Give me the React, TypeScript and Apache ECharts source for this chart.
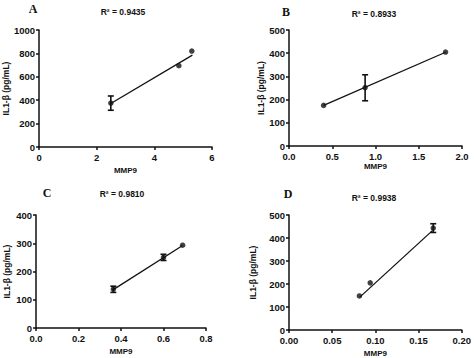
import React, { useEffect, useRef } from "react";
import * as echarts from "echarts";

// Panel A
const aX = [2.49, 4.85, 5.3];
const aY = [375, 695, 820];
const aErr = [[2.49, 314, 436]];
const aFit = [[2.49, 372], [5.32, 785]];
// Panel B
const bX = [0.4, 0.88, 1.81];
const bY = [175, 252, 405];
const bErr = [[0.88, 195, 307]];
const bFit = [[0.4, 175], [1.81, 404]];
// Panel C
const cX = [0.364, 0.6, 0.69];
const cY = [138, 250, 293];
const cErr = [[0.364, 126, 148], [0.6, 239, 261]];
const cFit = [[0.36, 134], [0.69, 292]];
// Panel D
const dX = [0.0815, 0.094, 0.167];
const dY = [148, 205, 443];
const dErr = [[0.167, 424, 462]];
const dFit = [[0.082, 143], [0.166, 432]];

const letters = ["A", "B", "C", "D"];
const r2Labels = ["R² = 0.9435", "R² = 0.8933", "R² = 0.9810", "R² = 0.9938"];
const xMax = [6, 2, 0.8, 0.2];
const xInterval = [2, 0.5, 0.2, 0.05];
const xDecimals = [0, 1, 1, 2];
const yMax = [1000, 500, 400, 500];
const yInterval = [200, 100, 100, 100];

const FONT = "Liberation Sans, Arial, sans-serif";

export default function App() {
  const ref = useRef<HTMLDivElement>(null);
  useEffect(() => {
    if (!ref.current) return;
    const chart = echarts.init(ref.current, null, { renderer: "svg" });
    const xs = [aX, bX, cX, dX];
    const ys = [aY, bY, cY, dY];
    const errs = [aErr, bErr, cErr, dErr];
    const fits = [aFit, bFit, cFit, dFit];
    const grids = [
      { left: 35, top: 30, width: 177, height: 117 },
      { left: 289, top: 30, width: 173, height: 116 },
      { left: 36, top: 215, width: 170, height: 113 },
      { left: 289, top: 215, width: 174, height: 117 },
    ];
    const yNameGap = [27, 22, 25, 32];
    const xNameGap = [19, 16, 19, 19];
    const titlePos = [
      [123, 12],
      [374, 14],
      [122, 194],
      [374, 198],
    ];
    const letterPos = [
      [33, 9],
      [286, 12],
      [47, 193],
      [288, 194],
    ];
    const axisLine = { show: true, lineStyle: { color: "#111", width: 1.5 } };
    const axisTick = { show: true, inside: false, length: 3, lineStyle: { color: "#111", width: 1.5 } };
    const series: any[] = [];
    for (let i = 0; i < 4; i++) {
      series.push({
        type: "line",
        xAxisIndex: i,
        yAxisIndex: i,
        data: fits[i],
        symbol: "none",
        lineStyle: { color: "#111", width: 1.3 },
        z: 2,
      });
      series.push({
        type: "scatter",
        xAxisIndex: i,
        yAxisIndex: i,
        data: xs[i].map((x, k) => [x, ys[i][k]]),
        symbol: "circle",
        symbolSize: 5.5,
        itemStyle: { color: "#111" },
        z: 3,
      });
      series.push({
        type: "custom",
        xAxisIndex: i,
        yAxisIndex: i,
        data: errs[i],
        z: 4,
        renderItem: (params: any, api: any) => {
          const x = api.value(0);
          const lo = api.coord([x, api.value(1)]);
          const hi = api.coord([x, api.value(2)]);
          const w = 3;
          const style = { stroke: "#111", lineWidth: 1.6 };
          return {
            type: "group",
            children: [
              { type: "line", shape: { x1: lo[0], y1: lo[1], x2: hi[0], y2: hi[1] }, style },
              { type: "line", shape: { x1: lo[0] - w, y1: lo[1], x2: lo[0] + w, y2: lo[1] }, style },
              { type: "line", shape: { x1: hi[0] - w, y1: hi[1], x2: hi[0] + w, y2: hi[1] }, style },
            ],
          };
        },
      });
    }
    const graphic: any[] = [];
    for (let i = 0; i < 4; i++) {
      graphic.push({
        type: "text",
        x: titlePos[i][0],
        y: titlePos[i][1],
        style: {
          text: r2Labels[i],
          font: `bold 8.5px ${FONT}`,
          fill: "#111",
          align: "center",
          verticalAlign: "middle",
        },
      });
      graphic.push({
        type: "text",
        x: letterPos[i][0],
        y: letterPos[i][1],
        style: {
          text: letters[i],
          font: `bold 12px "Liberation Serif", "Times New Roman", serif`,
          fill: "#111",
          align: "center",
          verticalAlign: "middle",
        },
      });
    }
    chart.setOption({
      animation: false,
      backgroundColor: "#fff",
      grid: grids.map((g) => ({ ...g, containLabel: false })),
      xAxis: grids.map((_, i) => ({
        type: "value",
        gridIndex: i,
        min: 0,
        max: xMax[i],
        interval: xInterval[i],
        name: "MMP9",
        nameLocation: "middle",
        nameGap: xNameGap[i],
        nameTextStyle: { fontFamily: FONT, fontWeight: "bold", fontSize: 8, color: "#111" },
        axisLine,
        axisTick,
        splitLine: { show: false },
        axisLabel: {
          fontFamily: FONT,
          fontWeight: "bold",
          fontSize: 9.5,
          color: "#111",
          margin: 5,
          formatter: (v: number) => v.toFixed(xDecimals[i]),
        },
      })),
      yAxis: grids.map((_, i) => ({
        type: "value",
        gridIndex: i,
        min: 0,
        max: yMax[i],
        interval: yInterval[i],
        name: "IL1-β (pg/mL)",
        nameLocation: "middle",
        nameGap: yNameGap[i],
        nameRotate: 90,
        nameTextStyle: { fontFamily: FONT, fontWeight: "bold", fontSize: 8.5, color: "#111" },
        axisLine,
        axisTick,
        splitLine: { show: false },
        axisLabel: {
          fontFamily: FONT,
          fontWeight: "bold",
          fontSize: 9.5,
          color: "#111",
          margin: 4,
          formatter: (v: number) => String(v),
        },
      })),
      graphic,
      series,
    });
    return () => chart.dispose();
  }, []);
  return (
    <div
      ref={ref}
      style={{ position: "fixed", left: 0, top: 0, width: 474, height: 358, background: "#fff" }}
    />
  );
}
